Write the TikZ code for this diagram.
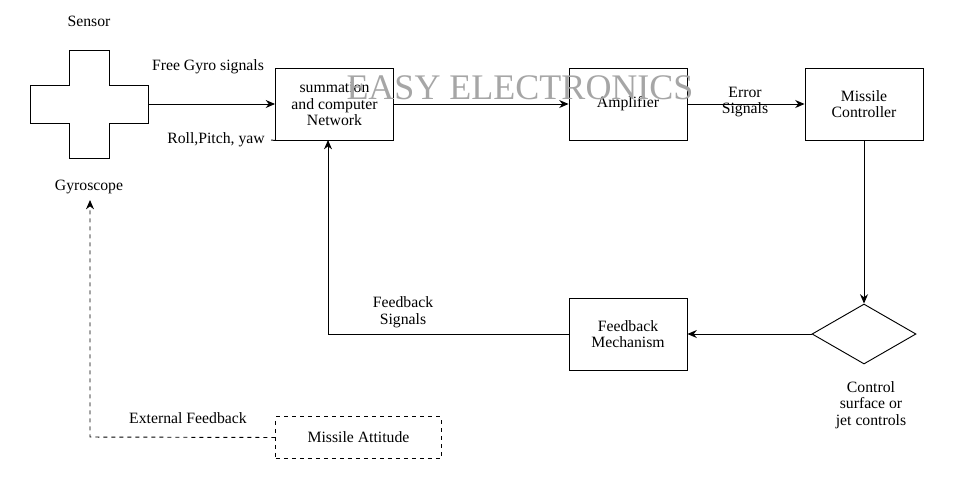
\documentclass[tikz,border=0pt]{standalone}
\usepackage{fontspec}
\setmainfont{Liberation Serif}
\usetikzlibrary{arrows.meta,shapes.geometric}
\begin{document}
\begin{tikzpicture}[x=0.75pt,y=-0.75pt,
  blk/.style={draw,minimum width=88.5pt,minimum height=54pt,align=center,font=\fontsize{11.8}{12.5}\selectfont},
  lbl/.style={align=center,font=\fontsize{11.8}{12.5}\selectfont},
  arr/.style={-{Stealth[length=7pt,width=6pt]},line width=0.7pt},
  every path/.style={line width=0.7pt}]
\useasboundingbox (0,0) rectangle (969,486);
\node[lbl] (sensor) at (89,21) {Sensor};
\draw (69,50) -- (109,50) -- (109,85) -- (148,85) -- (148,123) -- (109,123) -- (109,158) -- (69,158) -- (69,123) -- (30,123) -- (30,85) -- (69,85) -- cycle;
\coordinate (gyroR) at (148,104);
\node[lbl] (gyrolbl) at (89,187) {Gyroscope};
\node[blk] (sum) at (334.5,104) {summation\\and computer\\Network};
\node[blk] (amp) at (628,104) {Amplifier};
\node[blk] (mc) at (864,104) {Missile\\Controller};
\node[draw,diamond,minimum width=78pt,minimum height=45pt,inner sep=0pt] (dia) at (864,334) {};
\node[blk] (fb) at (628,334) {Feedback\\Mechanism};
\node[draw,dashed,minimum width=124pt,minimum height=31pt,lbl] (ma) at (358.5,437.5) {Missile Attitude};
\node[lbl,text=gray!70,font=\fontsize{27}{28}\selectfont] (wm) at (520,88) {EASY ELECTRONICS};
\draw[arr] (gyroR) -- (sum.west);
\draw (sum.west) ++(-4,36) coordinate (rp) -- (sum.south west);
\node[lbl] (fg) at (208,67) {Free Gyro signals};
\node[lbl] (rpy) at (216,140) {Roll,Pitch, yaw};
\draw[arr] (sum.east) -- (amp.west);
\draw[arr] (amp.east) -- (mc.west);
\node[lbl] (err) at (745,102) {Error\\Signals};
\draw[arr] (mc.south) -- (dia.north);
\draw[arr] (dia.west) -- (fb.east);
\draw[arr] (fb.west) -- (328,334) -- (328,140);
\node[lbl] (fs) at (403,312) {Feedback\\Signals};
\node[lbl] (cs) at (871,405) {Control\\surface or\\jet controls};
\draw[arr,dashed] (ma.west) -- (90,437) -- (90,200);
\node[lbl] (ef) at (188,418) {External Feedback};
\end{tikzpicture}
\end{document}
